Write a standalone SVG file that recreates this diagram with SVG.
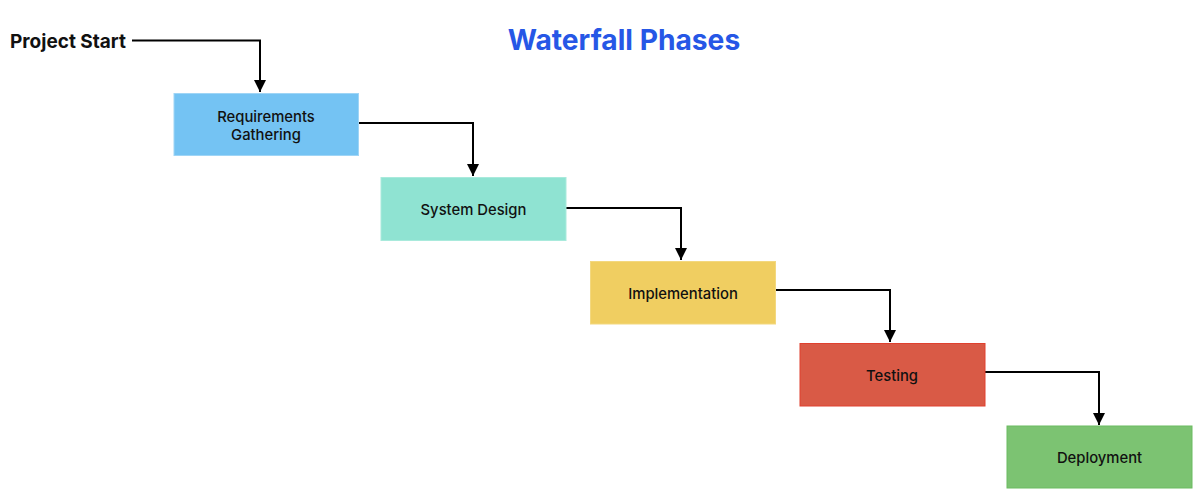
<svg xmlns="http://www.w3.org/2000/svg" width="1200" height="498" viewBox="0 0 1200 498">
<style>
.node rect{stroke-width:1}
.lbl{font-family:Inter,"Liberation Sans",sans-serif;font-size:14.8px;font-weight:500;fill:#111;text-anchor:middle}
.conn path{fill:none;stroke:#000;stroke-width:2}
</style>
<defs>
<marker id="arr" viewBox="0 0 10 10" refX="10" refY="5" markerWidth="6" markerHeight="6" orient="auto" markerUnits="strokeWidth">
<path d="M0,0 L10,5 L0,10 z" fill="#000"/>
</marker>
</defs>
<rect width="1200" height="498" fill="#fff"/>
<text x="624" y="50" font-family="Inter,'Liberation Sans',sans-serif" font-size="28.2" font-weight="700" fill="#2657E6" text-anchor="middle">Waterfall Phases</text>
<g id="start"><text x="10" y="48" font-family="Inter,'Liberation Sans',sans-serif" font-size="19" font-weight="700" fill="#111">Project Start</text></g>
<g class="conn" id="connectors">
<path d="M132,40.5 H260 V92" marker-end="url(#arr)"/>
<path d="M359,123 H473 V176" marker-end="url(#arr)"/>
<path d="M566,208 H681 V260" marker-end="url(#arr)"/>
<path d="M776,290 H890 V342" marker-end="url(#arr)"/>
<path d="M985,372 H1099 V425" marker-end="url(#arr)"/>
</g>
<g class="node" id="requirements"><rect x="174" y="93.5" width="184.5" height="62" fill="#74C3F3" stroke="#9FD5F6"/><text class="lbl" x="266" y="122">Requirements</text><text class="lbl" x="266" y="140">Gathering</text></g>
<g class="node" id="design"><rect x="381" y="177.5" width="185" height="63" fill="#8FE3D2" stroke="#A9EADC"/><text class="lbl" x="473.5" y="215">System Design</text></g>
<g class="node" id="implementation"><rect x="590.5" y="261.5" width="185" height="62.5" fill="#F0CE61" stroke="#F3D87F"/><text class="lbl" x="683" y="298.5">Implementation</text></g>
<g class="node" id="testing"><rect x="800" y="343.5" width="185" height="62.5" fill="#D95A46" stroke="#E0402E"/><text class="lbl" x="892" y="381">Testing</text></g>
<g class="node" id="deployment"><rect x="1007" y="426" width="185" height="62" fill="#7CC372" stroke="#6BBB60"/><text class="lbl" x="1099.5" y="463">Deployment</text></g>
</svg>
